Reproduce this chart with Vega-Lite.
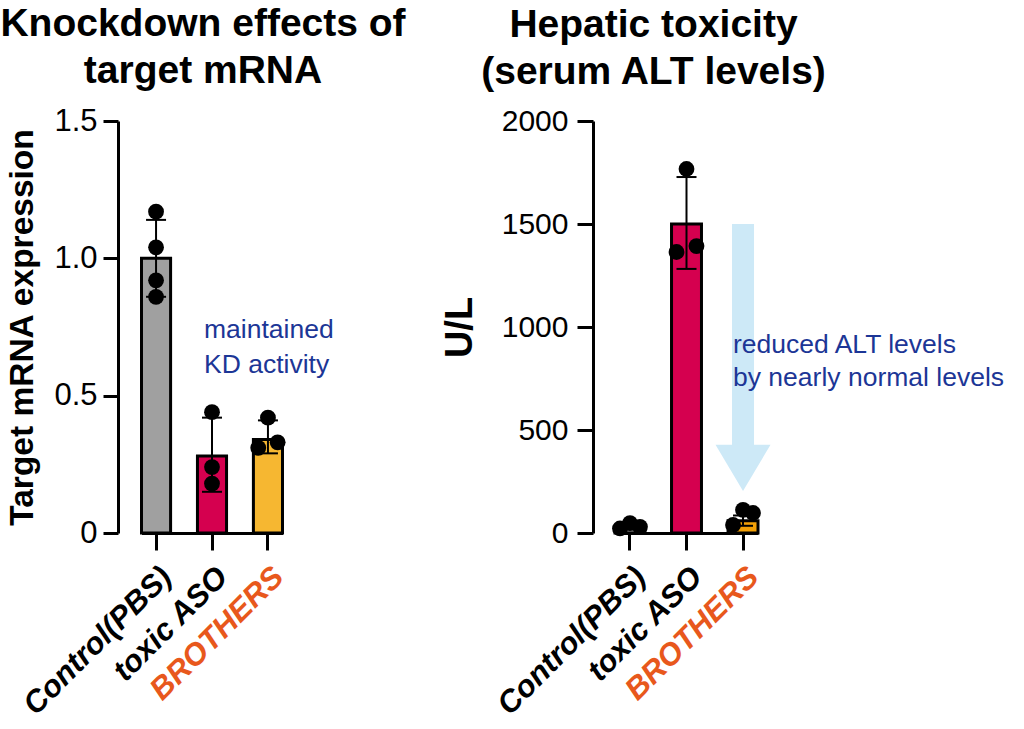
{
  "$schema": "https://vega.github.io/schema/vega-lite/v6.json",
  "background": "white",
  "padding": {"left": 0, "top": 5, "right": 5, "bottom": 5},
  "datasets": {
    "kd_bars": [
      {"group": "Control(PBS)", "mean": 1.0, "lo": 0.86, "hi": 1.14},
      {"group": "toxic ASO", "mean": 0.28, "lo": 0.15, "hi": 0.42},
      {"group": "BROTHERS", "mean": 0.34, "lo": 0.29, "hi": 0.41}
    ],
    "kd_points": [
      {"group": "Control(PBS)", "rep": 1, "value": 1.17},
      {"group": "Control(PBS)", "rep": 2, "value": 1.04},
      {"group": "Control(PBS)", "rep": 3, "value": 0.92},
      {"group": "Control(PBS)", "rep": 4, "value": 0.86},
      {"group": "toxic ASO", "rep": 1, "value": 0.44},
      {"group": "toxic ASO", "rep": 2, "value": 0.24},
      {"group": "toxic ASO", "rep": 3, "value": 0.18},
      {"group": "BROTHERS", "rep": 1, "value": 0.31},
      {"group": "BROTHERS", "rep": 2, "value": 0.42},
      {"group": "BROTHERS", "rep": 3, "value": 0.33}
    ],
    "alt_bars": [
      {"group": "Control(PBS)", "mean": 33, "lo": 22, "hi": 44},
      {"group": "toxic ASO", "mean": 1500, "lo": 1282, "hi": 1728},
      {"group": "BROTHERS", "mean": 60, "lo": 35, "hi": 85}
    ],
    "alt_points": [
      {"group": "Control(PBS)", "rep": 1, "value": 22},
      {"group": "Control(PBS)", "rep": 2, "value": 48},
      {"group": "Control(PBS)", "rep": 3, "value": 30},
      {"group": "toxic ASO", "rep": 1, "value": 1364},
      {"group": "toxic ASO", "rep": 2, "value": 1767},
      {"group": "toxic ASO", "rep": 3, "value": 1393},
      {"group": "BROTHERS", "rep": 1, "value": 39},
      {"group": "BROTHERS", "rep": 2, "value": 112},
      {"group": "BROTHERS", "rep": 3, "value": 97}
    ]
  },
  "spacing": 273,
  "bounds": "flush",
  "resolve": {"scale": {"x": "independent", "y": "independent", "color": "independent"}},
  "hconcat": [
    {
      "width": 200,
      "height": 412,
      "title": {"text": ["Knockdown effects of", "target mRNA"], "font": "Liberation Sans", "fontSize": 39, "fontWeight": "bold", "lineHeight": 47, "anchor": "middle", "frame": "group", "offset": 14, "color": "black"},
      "resolve": {"scale": {"xOffset": "independent"}},
      "layer": [
        {
          "data": {"name": "kd_bars"},
          "mark": {"type": "bar", "stroke": "black", "strokeWidth": 3},
          "encoding": {
            "x": {
              "field": "group", "type": "nominal",
              "scale": {"domain": ["Control(PBS)", "toxic ASO", "BROTHERS"], "range": [38.5, 179.5], "paddingInner": 0.48, "paddingOuter": 0},
              "axis": {
                "title": null, "domainWidth": 3, "tickSize": 17, "tickWidth": 3,
                "labelAngle": -45, "labelAlign": "right", "labelBaseline": "middle",
                "labelFontSize": 31, "labelFontWeight": "bold", "labelFontStyle": "italic",
                "labelPadding": 22, "labelOffset": 11, "labelOverlap": false, "labelLimit": 400,
                "labelColor": {"condition": {"test": "datum.value === 'BROTHERS'", "value": "#e8581c"}, "value": "black"}
              }
            },
            "y": {
              "field": "mean", "type": "quantitative",
              "scale": {"domain": [0, 1.5], "nice": false},
              "axis": {
                "title": "Target mRNA expression", "titleFontSize": 33.5, "titleFontWeight": "bold", "titlePadding": 14,
                "values": [0, 0.5, 1, 1.5], "labelExpr": "datum.value == 0 ? '0' : format(datum.value, '.1f')",
                "offset": -15, "tickSize": 15, "tickWidth": 3, "domainWidth": 3,
                "labelFontSize": 31, "labelPadding": 6
              }
            },
            "color": {"field": "group", "type": "nominal", "scale": {"domain": ["Control(PBS)", "toxic ASO", "BROTHERS"], "range": ["#a0a0a0", "#d5004f", "#f6b731"]}, "legend": null}
          }
        },
        {
          "data": {"name": "kd_bars"},
          "mark": {"type": "rule", "strokeWidth": 2, "color": "black"},
          "encoding": {
            "x": {"field": "group", "type": "nominal"},
            "y": {"field": "lo", "type": "quantitative"},
            "y2": {"field": "hi"}
          }
        },
        {
          "data": {"name": "kd_bars"},
          "mark": {"type": "tick", "size": 20, "thickness": 2, "color": "black", "opacity": 1},
          "encoding": {
            "x": {"field": "group", "type": "nominal"},
            "y": {"field": "hi", "type": "quantitative"}
          }
        },
        {
          "data": {"name": "kd_bars"},
          "mark": {"type": "tick", "size": 20, "thickness": 2, "color": "black", "opacity": 1},
          "encoding": {
            "x": {"field": "group", "type": "nominal"},
            "y": {"field": "lo", "type": "quantitative"}
          }
        },
        {
          "data": {"name": "kd_points"},
          "transform": [{"filter": "datum.group != 'BROTHERS'"}],
          "mark": {"type": "point", "filled": true, "size": 250, "color": "black", "opacity": 1},
          "encoding": {
            "x": {"field": "group", "type": "nominal"},
            "y": {"field": "value", "type": "quantitative"}
          }
        },
        {
          "data": {"name": "kd_points"},
          "transform": [{"filter": "datum.group == 'BROTHERS'"}],
          "mark": {"type": "point", "filled": true, "size": 250, "color": "black", "opacity": 1},
          "encoding": {
            "x": {"field": "group", "type": "nominal"},
            "y": {"field": "value", "type": "quantitative"},
            "xOffset": {"field": "rep", "type": "nominal"}
          }
        },
        {
          "data": {"values": [{}]},
          "mark": {"type": "text", "text": ["maintained", "KD activity"], "font": "Liberation Sans", "fontSize": 26.5, "color": "#1c3696", "align": "left", "baseline": "middle", "lineHeight": 35, "dx": -8},
          "encoding": {
            "x": {"datum": "toxic ASO", "type": "nominal"},
            "y": {"datum": 0.739, "type": "quantitative"}
          }
        }
      ]
    },
    {
      "width": 203,
      "height": 412,
      "title": {"text": ["Hepatic toxicity", "(serum ALT levels)"], "font": "Liberation Sans", "fontSize": 39, "fontWeight": "bold", "lineHeight": 47, "anchor": "middle", "frame": "group", "offset": 14, "dx": -24, "color": "black"},
      "resolve": {"scale": {"xOffset": "independent"}},
      "layer": [
        {
          "data": {"name": "alt_bars"},
          "mark": {"type": "bar", "stroke": "black", "strokeWidth": 3},
          "encoding": {
            "x": {
              "field": "group", "type": "nominal",
              "scale": {"domain": ["Control(PBS)", "toxic ASO", "BROTHERS"], "range": [39, 182], "paddingInner": 0.47, "paddingOuter": 0},
              "axis": {
                "title": null, "domainWidth": 3, "tickSize": 17, "tickWidth": 3,
                "labelAngle": -45, "labelAlign": "right", "labelBaseline": "middle",
                "labelFontSize": 31, "labelFontWeight": "bold", "labelFontStyle": "italic",
                "labelPadding": 22, "labelOffset": 11, "labelOverlap": false, "labelLimit": 400,
                "labelColor": {"condition": {"test": "datum.value === 'BROTHERS'", "value": "#e8581c"}, "value": "black"}
              }
            },
            "y": {
              "field": "mean", "type": "quantitative",
              "scale": {"domain": [0, 2000], "nice": false},
              "axis": {
                "title": "U/L", "titleFontSize": 38, "titleFontWeight": "bold", "titlePadding": 22,
                "values": [0, 500, 1000, 1500, 2000], "format": "d",
                "offset": -17, "tickSize": 16, "tickWidth": 3, "domainWidth": 3,
                "labelFontSize": 30, "labelPadding": 9
              }
            },
            "color": {"field": "group", "type": "nominal", "scale": {"domain": ["Control(PBS)", "toxic ASO", "BROTHERS"], "range": ["#a0a0a0", "#d5004f", "#f2a007"]}, "legend": null}
          }
        },
        {
          "data": {"values": [{}]},
          "mark": {"type": "rule", "strokeWidth": 22, "color": "#cde9f7", "strokeCap": "butt"},
          "encoding": {
            "x": {"datum": "BROTHERS", "type": "nominal"},
            "y": {"datum": 1500, "type": "quantitative"},
            "y2": {"datum": 427}
          }
        },
        {
          "data": {"values": [{}]},
          "mark": {"type": "point", "shape": "M-1,-0.84L1,-0.84L0,0.84Z", "filled": true, "size": 3025, "color": "#cde9f7", "opacity": 1},
          "encoding": {
            "x": {"datum": "BROTHERS", "type": "nominal"},
            "y": {"datum": 316, "type": "quantitative"}
          }
        },
        {
          "data": {"name": "alt_bars"},
          "mark": {"type": "rule", "strokeWidth": 2, "color": "black"},
          "encoding": {
            "x": {"field": "group", "type": "nominal"},
            "y": {"field": "lo", "type": "quantitative"},
            "y2": {"field": "hi"}
          }
        },
        {
          "data": {"name": "alt_bars"},
          "mark": {"type": "tick", "size": 20, "thickness": 2, "color": "black", "opacity": 1},
          "encoding": {
            "x": {"field": "group", "type": "nominal"},
            "y": {"field": "hi", "type": "quantitative"}
          }
        },
        {
          "data": {"name": "alt_bars"},
          "mark": {"type": "tick", "size": 20, "thickness": 2, "color": "black", "opacity": 1},
          "encoding": {
            "x": {"field": "group", "type": "nominal"},
            "y": {"field": "lo", "type": "quantitative"}
          }
        },
        {
          "data": {"name": "alt_points"},
          "mark": {"type": "point", "filled": true, "size": 250, "color": "black", "opacity": 1},
          "encoding": {
            "x": {"field": "group", "type": "nominal"},
            "y": {"field": "value", "type": "quantitative"},
            "xOffset": {"field": "rep", "type": "nominal"}
          }
        },
        {
          "data": {"values": [{}]},
          "mark": {"type": "text", "text": ["reduced ALT levels", "by nearly normal levels"], "font": "Liberation Sans", "fontSize": 26.5, "color": "#1c3696", "align": "left", "baseline": "middle", "lineHeight": 33, "dx": -10},
          "encoding": {
            "x": {"datum": "BROTHERS", "type": "nominal"},
            "y": {"datum": 913, "type": "quantitative"}
          }
        }
      ]
    }
  ],
  "config": {
    "view": {"stroke": null},
    "font": "Liberation Sans",
    "axis": {
      "grid": false, "domainColor": "black", "tickColor": "black",
      "labelColor": "black", "titleColor": "black",
      "labelFont": "Liberation Sans", "titleFont": "Liberation Sans"
    }
  }
}
